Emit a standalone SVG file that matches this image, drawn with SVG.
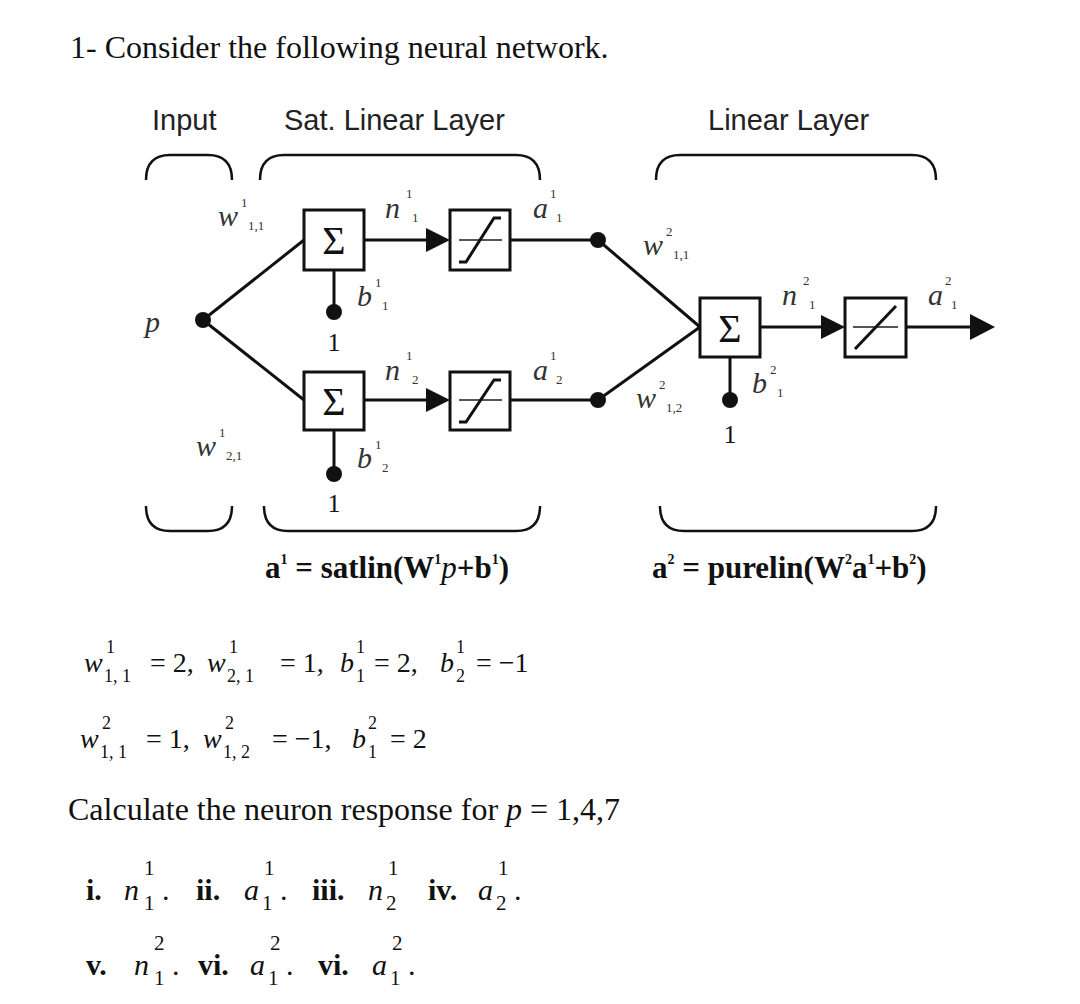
<svg xmlns="http://www.w3.org/2000/svg" width="1080" height="1004" viewBox="0 0 1080 1004">
<style>
.s{font-family:"Liberation Serif",serif;fill:#111}
.h{font-family:"Liberation Sans",sans-serif;font-size:29px;fill:#222}
.i{font-family:"Liberation Serif",serif;font-style:italic;fill:#333;font-size:30px}
.sm{font-family:"Liberation Serif",serif;fill:#333;font-size:13px}
.ln{stroke:#111;stroke-width:3;fill:none}
.bx{stroke:#111;stroke-width:3;fill:#fff}
.br{stroke:#111;stroke-width:2.5;fill:none}
.it{font-style:italic}
.b{font-weight:bold}
.p{font-size:18px}
</style>
<text class="s" x="70" y="58" font-size="32">1- Consider the following neural network.</text>
<text class="h" x="152" y="130">Input</text>
<text class="h" x="284" y="130">Sat. Linear Layer</text>
<text class="h" x="708" y="130">Linear Layer</text>
<g id="braces">
<path class="br" d="M146,180 Q146,155 170,155 L208,155 Q232,155 232,180"/>
<path class="br" d="M260,180 Q260,155 284,155 L516,155 Q540,155 540,180"/>
<path class="br" d="M656,180 Q656,155 680,155 L912,155 Q936,155 936,180"/>
<path class="br" d="M146,506 Q146,531 170,531 L208,531 Q232,531 232,506"/>
<path class="br" d="M264,506 Q264,531 288,531 L516,531 Q540,531 540,506"/>
<path class="br" d="M660,506 Q660,531 684,531 L912,531 Q936,531 936,506"/>
</g>
<g id="connectors">
<path class="ln" d="M203,320 L304,240 M203,320 L304,400"/>
<path class="ln" d="M334,270 V312 M334,430 V474"/>
<path class="ln" d="M364,240 H428 M364,400 H428"/>
<path d="M426,228 L450,240 L426,252z M426,388 L450,400 L426,412z" fill="#111"/>
<path class="ln" d="M510,240 H598 M510,400 H598"/>
<path class="ln" d="M598,240 L700,327 M598,400 L700,327"/>
<path class="ln" d="M730,357 V400"/>
<path class="ln" d="M760,327 H822 M906,327 H972"/>
<path d="M821,315 L845,327 L821,339z M970,314 L995,327 L970,340z" fill="#111"/>
<circle cx="203" cy="320" r="8" fill="#111"/>
<circle cx="334" cy="312" r="8" fill="#111"/>
<circle cx="334" cy="474" r="8" fill="#111"/>
<circle cx="598" cy="240" r="8" fill="#111"/>
<circle cx="598" cy="400" r="8" fill="#111"/>
<circle cx="730" cy="400" r="8" fill="#111"/>
</g>
<g id="sum1"><rect class="bx" x="304" y="210" width="60" height="60"/><text class="s" x="334" y="254" font-size="40" text-anchor="middle">Σ</text></g>
<g id="sum2"><rect class="bx" x="304" y="372" width="60" height="58"/><text class="s" x="334" y="415" font-size="40" text-anchor="middle">Σ</text></g>
<g id="sat1"><rect class="bx" x="450" y="210" width="60" height="60"/><path d="M459,240 H502" stroke="#555" stroke-width="2"/><path d="M459,262 L466,262 L494,218 L501,218" class="ln" stroke-width="2.5"/></g>
<g id="sat2"><rect class="bx" x="450" y="372" width="60" height="58"/><path d="M459,400 H502" stroke="#555" stroke-width="2"/><path d="M459,422 L466,422 L494,380 L501,380" class="ln" stroke-width="2.5"/></g>
<g id="sum3"><rect class="bx" x="700" y="298" width="60" height="59"/><text class="s" x="730" y="342" font-size="40" text-anchor="middle">Σ</text></g>
<g id="lin"><rect class="bx" x="845" y="298" width="61" height="59"/><path d="M853,327 H898" stroke="#555" stroke-width="2"/><path d="M855,349 L896,306" class="ln" stroke-width="2.5"/></g>
<g id="labels">
<text class="i" x="145" y="332">p</text>
<text class="i" x="218" y="226">w</text><text class="sm" x="241" y="207">1</text><text class="sm" x="248" y="230">1,1</text>
<text class="i" x="196" y="456">w</text><text class="sm" x="219" y="437">1</text><text class="sm" x="226" y="460">2,1</text>
<text class="i" x="385" y="218">n</text><text class="sm" x="406" y="198">1</text><text class="sm" x="412" y="222">1</text>
<text class="i" x="533" y="218">a</text><text class="sm" x="550" y="198">1</text><text class="sm" x="556" y="222">1</text>
<text class="i" x="357" y="306">b</text><text class="sm" x="375" y="287">1</text><text class="sm" x="382" y="310">1</text>
<text class="s" x="334" y="351" font-size="26" text-anchor="middle">1</text>
<text class="i" x="385" y="380">n</text><text class="sm" x="406" y="360">1</text><text class="sm" x="412" y="384">2</text>
<text class="i" x="533" y="380">a</text><text class="sm" x="550" y="360">1</text><text class="sm" x="556" y="384">2</text>
<text class="i" x="357" y="468">b</text><text class="sm" x="375" y="449">1</text><text class="sm" x="382" y="472">2</text>
<text class="s" x="334" y="512" font-size="26" text-anchor="middle">1</text>
<text class="i" x="643" y="255">w</text><text class="sm" x="666" y="236">2</text><text class="sm" x="673" y="259">1,1</text>
<text class="i" x="636" y="408">w</text><text class="sm" x="659" y="389">2</text><text class="sm" x="666" y="412">1,2</text>
<text class="i" x="782" y="305">n</text><text class="sm" x="803" y="285">2</text><text class="sm" x="809" y="309">1</text>
<text class="i" x="928" y="305">a</text><text class="sm" x="945" y="285">2</text><text class="sm" x="951" y="309">1</text>
<text class="i" x="752" y="393">b</text><text class="sm" x="770" y="374">2</text><text class="sm" x="777" y="397">1</text>
<text class="s" x="730" y="443" font-size="26" text-anchor="middle">1</text>
</g>
<text class="s b" x="265" y="578" font-size="31">a<tspan font-size="14" dy="-14">1</tspan><tspan dy="14"> = satlin(W</tspan><tspan font-size="14" dy="-14">1</tspan><tspan dy="14" font-style="italic" font-weight="normal">p</tspan><tspan>+b</tspan><tspan font-size="14" dy="-14">1</tspan><tspan dy="14">)</tspan></text>
<text class="s b" x="652" y="578" font-size="31">a<tspan font-size="14" dy="-14">2</tspan><tspan dy="14"> = purelin(W</tspan><tspan font-size="14" dy="-14">2</tspan><tspan dy="14">a</tspan><tspan font-size="14" dy="-14">1</tspan><tspan dy="14">+b</tspan><tspan font-size="14" dy="-14">2</tspan><tspan dy="14">)</tspan></text>
<g class="s" font-size="28">
<text class="it" x="84" y="672">w</text><text class="p" x="106" y="653">1</text><text class="p" x="104" y="682">1, 1</text>
<text x="150" y="672">= 2,</text>
<text class="it" x="207" y="672">w</text><text class="p" x="229" y="653">1</text><text class="p" x="227" y="682">2, 1</text>
<text x="280" y="672">= 1,</text>
<text class="it" x="340" y="672">b</text><text class="p" x="356" y="653">1</text><text class="p" x="356" y="682">1</text>
<text x="374" y="672">= 2,</text>
<text class="it" x="440" y="672">b</text><text class="p" x="456" y="653">1</text><text class="p" x="456" y="682">2</text>
<text x="476" y="672">= −1</text>
<text class="it" x="80" y="748">w</text><text class="p" x="102" y="729">2</text><text class="p" x="100" y="758">1, 1</text>
<text x="146" y="748">= 1,</text>
<text class="it" x="203" y="748">w</text><text class="p" x="225" y="729">2</text><text class="p" x="223" y="758">1, 2</text>
<text x="272" y="748">= −1,</text>
<text class="it" x="352" y="748">b</text><text class="p" x="368" y="729">2</text><text class="p" x="368" y="758">1</text>
<text x="390" y="748">= 2</text>
</g>
<text class="s" x="68" y="820" font-size="32">Calculate the neuron response for <tspan font-style="italic">p</tspan> = 1,4,7</text>
<g class="s" font-size="30">
<text class="b" x="86" y="900">i.</text><text class="it" x="124" y="900">n</text><text font-size="21" x="144" y="875">1</text><text font-size="21" x="144" y="910">1</text><text x="162" y="900">.</text>
<text class="b" x="196" y="900">ii.</text><text class="it" x="244" y="900">a</text><text font-size="21" x="264" y="875">1</text><text font-size="21" x="262" y="910">1</text><text x="280" y="900">.</text>
<text class="b" x="312" y="900">iii.</text><text class="it" x="368" y="900">n</text><text font-size="21" x="388" y="875">1</text><text font-size="21" x="386" y="910">2</text>
<text class="b" x="428" y="900">iv.</text><text class="it" x="478" y="900">a</text><text font-size="21" x="498" y="875">1</text><text font-size="21" x="496" y="910">2</text><text x="514" y="900">.</text>
<text class="b" x="86" y="975">v.</text><text class="it" x="134" y="975">n</text><text font-size="21" x="154" y="950">2</text><text font-size="21" x="154" y="985">1</text><text x="172" y="975">.</text>
<text class="b" x="198" y="975">vi.</text><text class="it" x="250" y="975">a</text><text font-size="21" x="270" y="950">2</text><text font-size="21" x="268" y="985">1</text><text x="286" y="975">.</text>
<text class="b" x="318" y="975">vi.</text><text class="it" x="372" y="975">a</text><text font-size="21" x="392" y="950">2</text><text font-size="21" x="390" y="985">1</text><text x="408" y="975">.</text>
</g>
</svg>
